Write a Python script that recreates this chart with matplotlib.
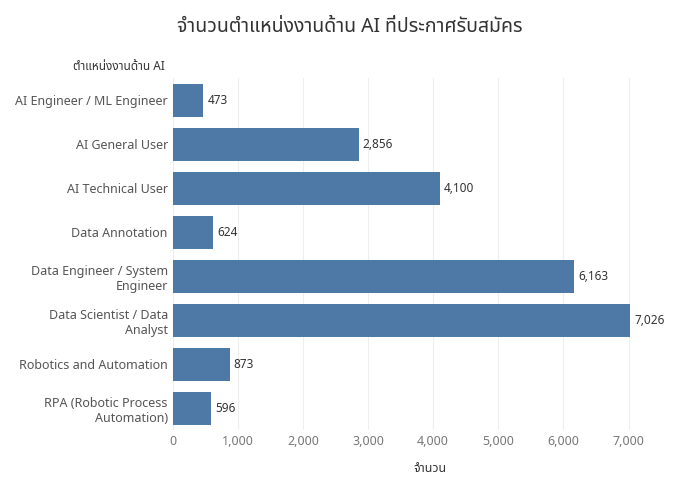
import matplotlib
matplotlib.use("Agg")
import matplotlib.pyplot as plt
from matplotlib import font_manager

# หมวดตำแหน่งงานและจำนวน
categories = ["AI Engineer / ML Engineer", "AI General User", "AI Technical User",
              "Data Annotation", "Data Engineer / System\nEngineer",
              "Data Scientist / Data\nAnalyst", "Robotics and Automation",
              "RPA (Robotic Process\nAutomation)"]
values = [473, 2856, 4100, 624, 6163, 7026, 873, 596]
xticks = [0, 1000, 2000, 3000, 4000, 5000, 6000, 7000]

names = {f.name for f in font_manager.fontManager.ttflist}
fams = [f for f in ["Noto Sans Thai", "Noto Sans Thai Looped", "Loma", "Garuda",
                    "Tlwg Typo", "Noto Sans", "DejaVu Sans"] if f in names]
plt.rcParams["font.family"] = fams

fig = plt.figure(figsize=(6.99, 4.99), dpi=100)
ax = fig.add_axes([0.247, 0.138, 0.736, 0.705])
y = list(range(len(categories)))
ax.barh(y, values, height=0.75, color="#4e79a7", zorder=2)
for yi, v in zip(y, values):
    ax.text(v + 60, yi, f"{v:,}", va="center", fontsize=8.5, color="#333333")
ax.set_ylim(len(categories) - 0.5, -0.5)
ax.set_yticks(y)
ax.set_yticklabels(categories, fontsize=9, color="#555555")
ax.set_xlim(0, 7900)
ax.set_xticks(xticks)
ax.set_xticklabels([f"{t:,}" for t in xticks], fontsize=9, color="#777777")
ax.tick_params(length=0)
ax.grid(axis="x", color="#eeeeee", zorder=0)
for s in ax.spines.values():
    s.set_visible(False)
ax.set_xlabel("จำนวน", fontsize=9, color="#333333", labelpad=10)
fig.text(0.5, 0.935, "จำนวนตำแหน่งงานด้าน AI ที่ประกาศรับสมัคร", ha="center",
         fontsize=14, fontweight="bold", color="#333333")
fig.text(0.105, 0.86, "ตำแหน่งงานด้าน AI", fontsize=8.5, color="#333333")
fig.savefig("out.png", dpi=100)
